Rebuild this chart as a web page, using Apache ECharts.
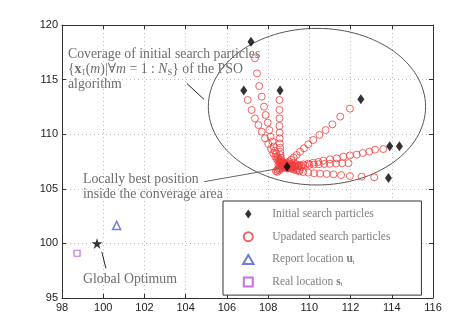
<!DOCTYPE html>
<html>
<head>
<meta charset="utf-8">
<script src="https://cdn.jsdelivr.net/npm/echarts@6/dist/echarts.min.js"></script>
<style>
    html, body { margin: 0; padding: 0; background: #fff; }
    #chart { width: 474px; height: 335px; }
</style>
</head>
<body>
<div id="chart"></div>
<script>
    // values (x, y)
    var xTicks = [98, 116, 2];
    var yTicks = [95, 120, 5];

    var initialParticles = [
        [107.17, 118.47], [106.82, 114.0], [108.58, 114.0], [112.5, 113.2],
        [113.9, 108.9], [114.37, 108.9], [113.84, 106.0], [108.92, 107.02]
    ];

    var track1 = [
        [107.36, 116.95], [107.46, 115.57], [107.57, 114.41], [107.69, 113.44], [107.80, 112.52],
        [107.88, 111.76], [107.98, 111.06], [108.06, 110.38], [108.12, 109.77], [108.21, 109.32],
        [108.27, 108.86], [108.33, 108.49], [108.40, 108.18], [108.46, 107.92], [108.52, 107.70],
        [108.57, 107.52], [108.62, 107.38], [108.66, 107.26], [108.70, 107.16], [108.73, 107.08]
    ];
    var track2 = [
        [107.01, 113.13], [107.20, 112.22], [107.36, 111.45], [107.53, 110.84], [107.69, 110.23],
        [107.85, 109.62], [108.01, 109.10], [108.14, 108.64], [108.25, 108.25], [108.35, 107.94],
        [108.43, 107.70], [108.50, 107.50], [108.56, 107.35], [108.62, 107.23], [108.67, 107.13],
        [108.71, 107.06]
    ];
    var track3 = [
        [108.55, 113.13], [108.55, 112.22], [108.55, 111.45], [108.55, 110.75], [108.56, 110.14],
        [108.56, 109.62], [108.57, 109.16], [108.58, 108.77], [108.59, 108.40], [108.60, 108.09],
        [108.62, 107.85], [108.64, 107.64], [108.66, 107.47], [108.68, 107.33], [108.70, 107.22],
        [108.72, 107.12]
    ];
    var track4 = [
        [111.97, 112.34], [111.50, 111.61], [111.12, 110.90], [110.79, 110.38], [110.49, 109.93],
        [110.19, 109.47], [109.95, 109.07], [109.74, 108.71], [109.55, 108.40], [109.39, 108.10],
        [109.24, 107.86], [109.12, 107.66], [109.02, 107.50], [108.94, 107.37], [108.88, 107.26],
        [108.83, 107.17], [108.79, 107.10]
    ];
    var track5 = [
        [113.59, 108.64], [113.19, 108.58], [112.91, 108.40], [112.59, 108.28], [112.30, 108.13],
        [111.97, 108.06], [111.65, 107.94], [111.33, 107.79], [111.00, 107.70], [110.68, 107.58],
        [110.44, 107.46], [110.19, 107.39], [109.95, 107.30], [109.71, 107.24], [109.50, 107.18],
        [109.31, 107.12], [109.16, 107.08], [109.03, 107.05], [108.93, 107.03]
    ];
    var track6 = [
        [111.90, 107.35], [111.60, 107.33], [111.30, 107.31], [111.00, 107.29], [110.72, 107.27],
        [110.46, 107.25], [110.22, 107.22], [110.00, 107.19], [109.80, 107.16], [109.60, 107.13],
        [109.42, 107.10], [109.26, 107.07], [109.12, 107.04], [109.00, 107.02]
    ];
    var track7 = [
        [113.15, 106.05], [112.54, 106.11], [111.97, 106.17], [111.54, 106.26], [111.17, 106.32],
        [110.84, 106.36], [110.52, 106.39], [110.23, 106.42], [109.95, 106.48], [109.71, 106.54],
        [109.52, 106.60], [109.38, 106.68], [109.25, 106.76], [109.15, 106.84], [109.05, 106.90],
        [108.97, 106.95]
    ];
    var cluster = [
        [108.38, 106.62], [108.45, 106.74], [108.55, 106.70], [108.60, 106.85], [108.70, 106.90],
        [108.80, 106.95], [109.00, 106.95], [109.10, 106.90], [109.20, 106.95], [109.30, 107.00],
        [108.90, 107.20], [109.00, 107.30], [109.10, 107.20], [108.80, 107.30], [108.60, 107.00],
        [108.50, 106.90], [109.20, 107.20], [109.40, 106.85], [109.50, 106.72], [108.85, 107.10],
        [109.35, 107.25], [108.65, 107.15], [109.45, 107.05], [108.95, 106.85], [108.75, 107.40],
        [108.50, 107.20], [109.25, 107.40], [109.60, 106.95], [108.45, 106.55], [109.05, 107.12]
    ];
    var updatedParticles = [].concat(track1, track2, track3, track4, track5, track6, track7, cluster);

    var reportLocation = [[100.65, 101.65]];
    var realLocation = [[98.73, 99.1]];
    var globalOptimum = [[99.7, 100.0]];
    var coverage = [[110.37, 112.52, 5.27, 7.17]]; // centre x, centre y, half width, half height

    var serif = "'Liberation Serif', 'DejaVu Serif', serif";
    var sans = "'Liberation Sans', Arial, sans-serif";
    var grey = '#6e6e6e';

    // tiny deep merge helper
    function merge(target) {
        for (var i = 1; i < arguments.length; i++) {
            var src = arguments[i];
            for (var k in src) {
                if (src[k] && typeof src[k] === 'object' && !Array.isArray(src[k])) {
                    target[k] = merge(target[k] || {}, src[k]);
                } else {
                    target[k] = src[k];
                }
            }
        }
        return target;
    }

    var boxAxis = {
        type: 'value',
        axisLine: { show: true, onZero: false, lineStyle: { color: '#333', width: 1 } },
        axisTick: { show: true, inside: true, length: 4, lineStyle: { color: '#333' } },
        axisLabel: { show: false },
        splitLine: { show: false }
    };
    function axis(ticks, extra) {
        return merge({}, boxAxis, { min: ticks[0], max: ticks[1], interval: ticks[2] }, extra);
    }

    var mainLabel = { show: true, margin: 4, fontSize: 11, color: '#222', fontFamily: sans };
    var dotted = { show: true, lineStyle: { type: [1, 3], color: '#bdbdbd', width: 1 } };

    var legendNames = {
        'Initial search particles': 'Initial search particles',
        'Upadated search particles': 'Upadated search particles',
        'Report location u_i': 'Report location {b|u}{s|i}',
        'Real location s_i': 'Real location {b|s}{s|i}'
    };

    var option = {
        animation: false,
        grid: { left: 62, right: 41, top: 25, bottom: 37 },
        xAxis: [
            axis(xTicks, { position: 'bottom', axisLabel: mainLabel, splitLine: dotted }),
            axis(xTicks, { position: 'top' })
        ],
        yAxis: [
            axis(yTicks, { position: 'left', axisLabel: mainLabel, splitLine: dotted }),
            axis(yTicks, { position: 'right' })
        ],
        legend: {
            orient: 'vertical',
            left: 223,
            top: 201,
            padding: [7, 31, 7, 19],
            itemWidth: 38,
            itemHeight: 9,
            itemGap: 10.7,
            backgroundColor: '#fff',
            borderColor: '#333',
            borderWidth: 1,
            borderRadius: 0,
            selectedMode: false,
            data: [
                { name: 'Initial search particles', icon: 'path://M5,0L10,7L5,14L0,7Z' },
                { name: 'Upadated search particles', icon: 'circle' },
                { name: 'Report location u_i', icon: 'path://M5,0L10,8.5L0,8.5Z' },
                { name: 'Real location s_i', icon: 'path://M0,0L10,0L10,10L0,10Z' }
            ],
            formatter: function (name) { return legendNames[name]; },
            textStyle: {
                fontFamily: serif, fontSize: 11.5, color: '#808080', lineHeight: 12,
                rich: {
                    b: { fontFamily: serif, fontSize: 11.5, fontWeight: 'bold', color: '#808080', lineHeight: 12 },
                    s: { fontFamily: serif, fontSize: 7, color: '#808080', lineHeight: 12, verticalAlign: 'bottom' }
                }
            }
        },
        graphic: [
            {
                type: 'text', left: 68, top: 47, z: 100,
                style: {
                    text: 'Coverage of initial search particles\n' +
                        '{{bx|x}{sub|1}({it|m})|\u2200{it|m} = 1 : {it|N}{sub|S}} of the PSO\n' +
                        'algorithm',
                    fontFamily: serif, fontSize: 13.8, lineHeight: 15, fill: grey,
                    rich: {
                        bx: { fontFamily: serif, fontSize: 13.8, fontWeight: 'bold', color: grey, lineHeight: 15 },
                        it: { fontFamily: serif, fontSize: 13.8, fontStyle: 'italic', color: grey, lineHeight: 15 },
                        sub: { fontFamily: serif, fontSize: 8.5, color: grey, lineHeight: 15, verticalAlign: 'bottom' }
                    }
                }
            },
            {
                type: 'text', left: 83, top: 171.5, z: 100,
                style: {
                    text: 'Locally best position\ninside the converage area',
                    fontFamily: serif, fontSize: 13.8, lineHeight: 15, fill: grey
                }
            },
            {
                type: 'text', left: 83, top: 272, z: 100,
                style: { text: 'Global Optimum', fontFamily: serif, fontSize: 13.8, lineHeight: 15, fill: grey }
            }
        ],
        series: [
            {
                name: 'coverage',
                type: 'custom',
                data: coverage,
                encode: { x: 0, y: 1 },
                silent: true,
                z: 1,
                renderItem: function (params, api) {
                    var c = api.coord([api.value(0), api.value(1)]);
                    var s = api.size([api.value(2), api.value(3)]);
                    return {
                        type: 'ellipse',
                        shape: { cx: c[0], cy: c[1], rx: s[0], ry: s[1] },
                        style: { fill: 'none', stroke: '#555', lineWidth: 1 }
                    };
                }
            },
            {
                name: 'Upadated search particles',
                type: 'scatter',
                symbol: 'circle',
                symbolSize: 7,
                data: updatedParticles,
                itemStyle: { color: 'rgba(255,255,255,0)', borderColor: '#f03c3c', borderWidth: 1 },
                z: 2
            },
            {
                name: 'Initial search particles',
                type: 'scatter',
                symbol: 'diamond',
                symbolSize: [7, 10],
                data: initialParticles,
                itemStyle: { color: '#000' },
                z: 3
            },
            {
                name: 'Report location u_i',
                type: 'scatter',
                symbol: 'triangle',
                symbolSize: 8,
                data: reportLocation,
                itemStyle: { color: 'rgba(255,255,255,0)', borderColor: '#4a5fd6', borderWidth: 1.5 },
                z: 3
            },
            {
                name: 'Real location s_i',
                type: 'scatter',
                symbol: 'rect',
                symbolSize: 6,
                data: realLocation,
                itemStyle: { color: 'rgba(255,255,255,0)', borderColor: '#b64fd8', borderWidth: 1.2 },
                z: 3
            },
            {
                name: 'Global Optimum',
                type: 'scatter',
                symbol: 'path://M50,0L61,35L98,35L68,57L79,91L50,70L21,91L32,57L2,35L39,35Z',
                symbolSize: 11,
                data: globalOptimum,
                itemStyle: { color: '#000' },
                z: 3,
                markLine: {
                    silent: true,
                    animation: false,
                    symbol: ['none', 'arrow'],
                    symbolSize: [0, 8],
                    label: { show: false },
                    lineStyle: { color: '#222', width: 1, type: 'solid' },
                    data: [
                        [{ coord: [104.05, 114.66] }, { coord: [104.89, 113.19] }],
                        [{ coord: [104.89, 105.65], lineStyle: { color: '#666' } }, { coord: [108.5, 106.85] }],
                        [{ coord: [100.13, 97.72] }, { coord: [99.93, 99.24] }]
                    ]
                }
            }
        ]
    };

    var chart = echarts.init(document.getElementById('chart'));
    chart.setOption(option);
</script>
</body>
</html>
